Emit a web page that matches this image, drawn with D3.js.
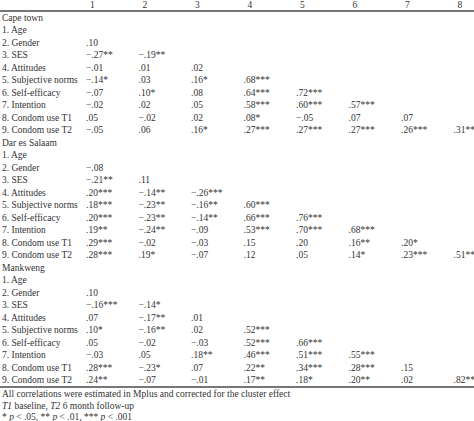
<!DOCTYPE html>
<html>
<head>
<meta charset="utf-8">
<script src="https://d3js.org/d3.v7.min.js"></script>
<style>
  body { margin: 0; background: #fff; }
  text { font-family: "Liberation Serif", "DejaVu Serif", serif; font-size: 9.5px; fill: #333; }
</style>
</head>
<body>
<div id="canvas"></div>
<script>
// column headers
var columns = ["1", "2", "3", "4", "5", "6", "7", "8"];
var variables = ["1. Age", "2. Gender", "3. SES", "4. Attitudes", "5. Subjective norms",
  "6. Self-efficacy", "7. Intention", "8. Condom use T1", "9. Condom use T2"];
var sites = ["Cape town", "Dar es Salaam", "Mankweng"];

// lower-triangle correlations per site (row i has i entries)
var capeTown = [
  [],
  [".10"],
  ["\u2212.27**", "\u2212.19**"],
  ["\u2212.01", ".01", ".02"],
  ["\u2212.14*", ".03", ".16*", ".68***"],
  ["\u2212.07", ".10*", ".08", ".64***", ".72***"],
  ["\u2212.02", ".02", ".05", ".58***", ".60***", ".57***"],
  [".05", "\u2212.02", ".02", ".08*", "\u2212.05", ".07", ".07"],
  ["\u2212.05", ".06", ".16*", ".27***", ".27***", ".27***", ".26***", ".31***"]
];
var darEsSalaam = [
  [],
  ["\u2212.08"],
  ["\u2212.21**", ".11"],
  [".20***", "\u2212.14**", "\u2212.26***"],
  [".18***", "\u2212.23**", "\u2212.16**", ".60***"],
  [".20***", "\u2212.23**", "\u2212.14**", ".66***", ".76***"],
  [".19**", "\u2212.24**", "\u2212.09", ".53***", ".70***", ".68***"],
  [".29***", "\u2212.02", "\u2212.03", ".15", ".20", ".16**", ".20*"],
  [".28***", ".19*", "\u2212.07", ".12", ".05", ".14*", ".23***", ".51***"]
];
var mankweng = [
  [],
  [".10"],
  ["\u2212.16***", "\u2212.14*"],
  [".07", "\u2212.17**", ".01"],
  [".10*", "\u2212.16**", ".02", ".52***"],
  [".05", "\u2212.02", "\u2212.03", ".52***", ".66***"],
  ["\u2212.03", ".05", ".18**", ".46***", ".51***", ".55***"],
  [".28***", "\u2212.23*", ".07", ".22**", ".34***", ".28***", ".15"],
  [".24**", "\u2212.07", "\u2212.01", ".17**", ".18*", ".20**", ".02", ".82***"]
];
var siteData = [capeTown, darEsSalaam, mankweng];
var footnotes = ["All correlations were estimated in Mplus and corrected for the cluster effect"];

var width = 474, height = 421;
var svg = d3.select("#canvas").append("svg")
  .attr("width", width).attr("height", height);

// build flat row list
var rows = [];
sites.forEach(function(s, si) {
  rows.push({ label: s, cells: [] });
  variables.forEach(function(v, vi) {
    rows.push({ label: v, cells: siteData[si][vi] });
  });
});

var y = d3.scaleBand().domain(d3.range(rows.length)).range([11, 386]);
var x = d3.scaleBand().domain(columns).range([86, 506]);

// header
svg.selectAll(".hdr").data(columns).enter().append("text")
  .attr("x", function(d) { return x(d) + 4; })
  .attr("y", 8)
  .text(function(d) { return d; });

svg.append("line").attr("x1", 0).attr("x2", width).attr("y1", 11).attr("y2", 11)
  .attr("stroke", "#777").attr("stroke-width", 2);

var r = svg.selectAll(".row").data(rows).enter().append("g")
  .attr("transform", function(d, i) { return "translate(0," + (y(i) + y.bandwidth() / 2 + 3.5) + ")"; });

r.append("text").attr("x", 2).text(function(d) { return d.label; });

r.selectAll(".cell").data(function(d) { return d.cells; }).enter().append("text")
  .attr("x", function(d, i) { return x(columns[i]); })
  .text(function(d) { return d; });

svg.append("line").attr("x1", 0).attr("x2", width).attr("y1", 387).attr("y2", 387)
  .attr("stroke", "#777").attr("stroke-width", 2);

svg.append("text").attr("x", 2).attr("y", 397).text(footnotes[0]);
var f2 = svg.append("text").attr("x", 2).attr("y", 409);
f2.append("tspan").attr("font-style", "italic").text("T1");
f2.append("tspan").text(" baseline, ");
f2.append("tspan").attr("font-style", "italic").text("T2");
f2.append("tspan").text(" 6 month follow-up");
var f3 = svg.append("text").attr("x", 2).attr("y", 420);
f3.append("tspan").text("* ");
f3.append("tspan").attr("font-style", "italic").text("p");
f3.append("tspan").text(" < .05, ** ");
f3.append("tspan").attr("font-style", "italic").text("p");
f3.append("tspan").text(" < .01, *** ");
f3.append("tspan").attr("font-style", "italic").text("p");
f3.append("tspan").text(" < .001");
</script>
</body>
</html>
